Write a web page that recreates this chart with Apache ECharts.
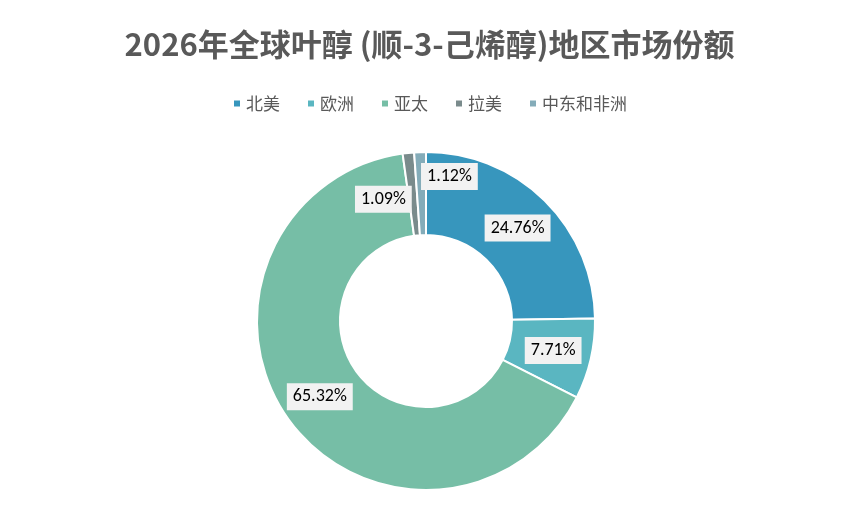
<!DOCTYPE html>
<html><head><meta charset="utf-8">
<script src="https://cdn.jsdelivr.net/npm/echarts@6/dist/echarts.min.js"></script>
<style>html,body{margin:0;padding:0;background:#fff}#c{width:859px;height:505px}</style>
</head><body><div id="c"></div>
<script>
const categories = ['北美','欧洲','亚太','拉美','中东和非洲'];
const values = [24.76, 7.71, 65.32, 1.09, 1.12];
const colors = ['#3796bd','#5ab6c1','#76bea6','#7a8b8c','#84acb9'];
const labelOffsets = [[0,0],[0,0],[0,0],[-29,8],[28,-14]];
const chart = echarts.init(document.getElementById('c'));
chart.setOption({
  animation:false,
  title:{text:'2026年全球叶醇 (顺-3-己烯醇)地区市场份额',left:'center',top:24,
    textStyle:{fontSize:31,fontWeight:'bold',color:'#595959',fontFamily:'"Noto Sans CJK SC","Noto Sans",sans-serif'}},
  legend:{top:90,left:'center',itemWidth:8,itemHeight:8,itemGap:26,icon:'rect',
    textStyle:{fontSize:17,color:'#595959',fontFamily:'"Noto Sans CJK SC",sans-serif'},
    data:categories},
  series:[{type:'pie',center:[426,321],radius:[86,169],startAngle:90,clockwise:true,
    itemStyle:{borderColor:'#fff',borderWidth:2},
    label:{show:true,position:'inside',formatter:p=>p.value.toFixed(2)+'%',
      fontSize:18,color:'#000',backgroundColor:'#f2f2f2',padding:[5,6,4,6],
      fontFamily:'Carlito,"Liberation Sans","Noto Sans",sans-serif'},
    labelLine:{show:false},
    data:categories.map((n,i)=>({name:n,value:values[i],itemStyle:{color:colors[i]},
      label:{offset:labelOffsets[i]}}))
  }]
});
</script></body></html>
